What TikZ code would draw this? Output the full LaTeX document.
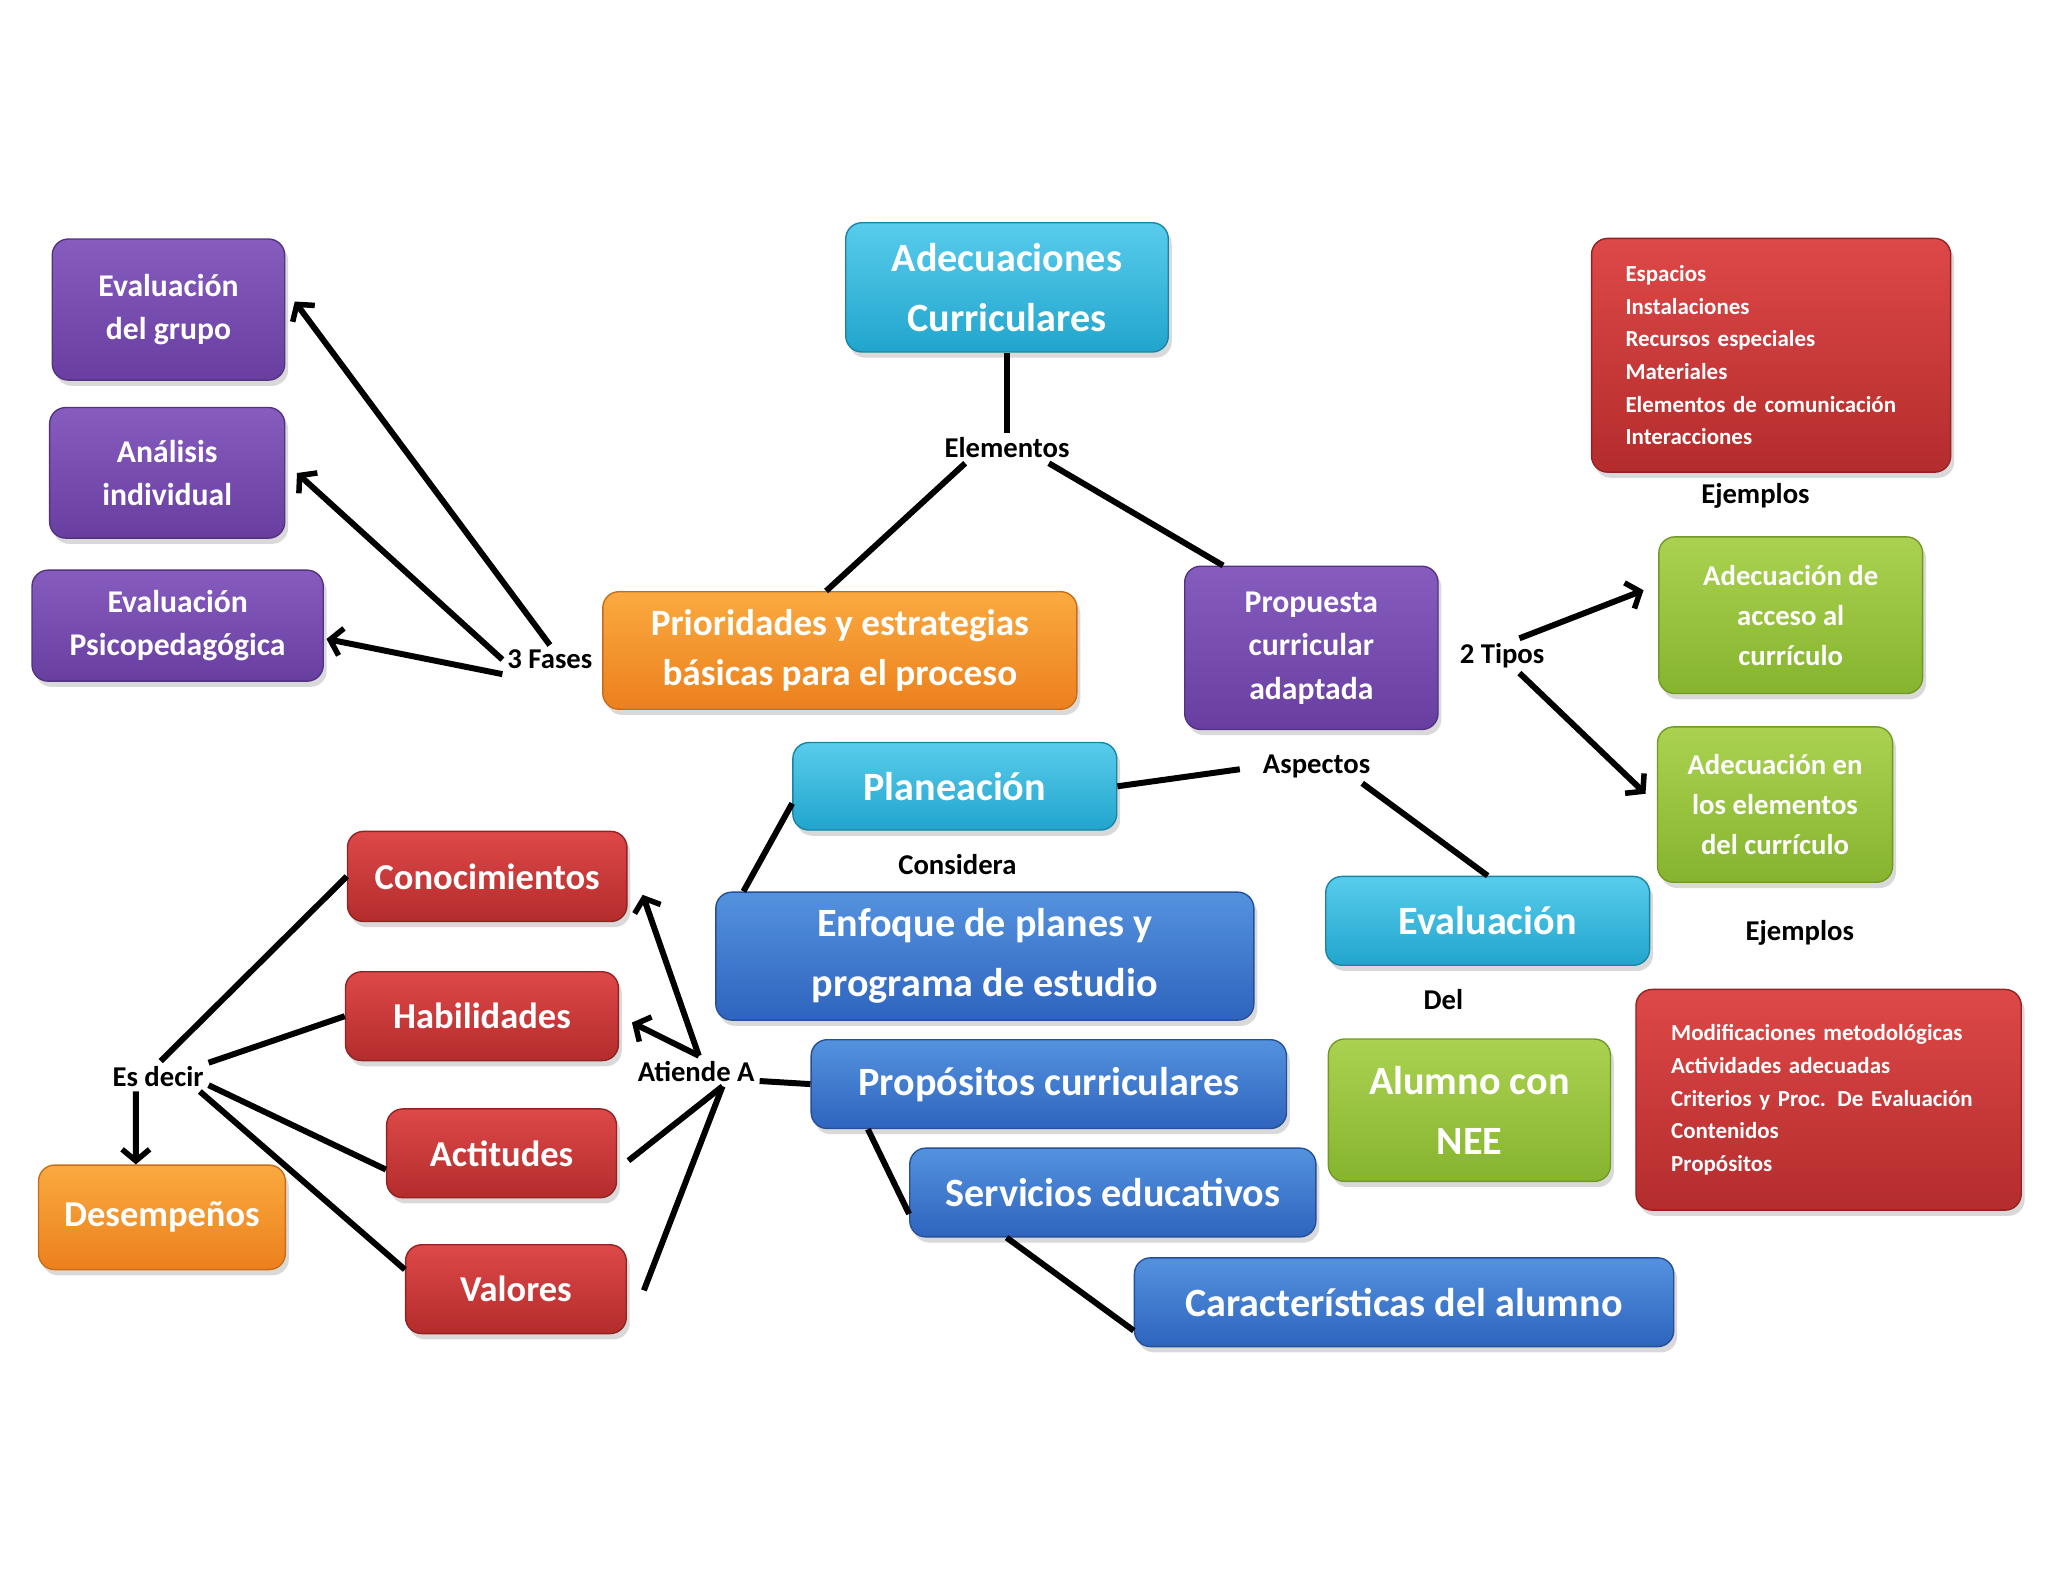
\documentclass[tikz,border=0pt]{standalone}
\usepackage{fontspec}
\setmainfont{Carlito}
\usetikzlibrary{arrows.meta,shadows}
\definecolor{cyanT}{RGB}{88,204,236}
\definecolor{cyanB}{RGB}{33,165,205}
\definecolor{purpT}{RGB}{134,92,190}
\definecolor{purpB}{RGB}{104,62,160}
\definecolor{orngT}{RGB}{250,170,64}
\definecolor{orngB}{RGB}{236,128,28}
\definecolor{grnT}{RGB}{170,210,80}
\definecolor{grnB}{RGB}{134,180,46}
\definecolor{redT}{RGB}{222,72,72}
\definecolor{redB}{RGB}{180,44,44}
\definecolor{bluT}{RGB}{84,146,222}
\definecolor{bluB}{RGB}{46,100,190}

\begin{document}
\begin{tikzpicture}
      [x=0.02cm, y=-0.02cm,
        box/.style={rounded corners=7pt, text=white, align=center, inner sep=0pt, line width=0.6pt,
          drop shadow={opacity=0.3, shadow xshift=1.5pt, shadow yshift=-2.5pt}},
        cyanbox/.style={box, top color=cyanT, bottom color=cyanB, draw=cyanB!80!black},
        purpbox/.style={box, top color=purpT, bottom color=purpB, draw=purpB!80!black},
        orngbox/.style={box, top color=orngT, bottom color=orngB, draw=orngB!85!black},
        grnbox/.style={box, top color=grnT, bottom color=grnB, draw=grnB!85!black},
        redbox/.style={box, top color=redT, bottom color=redB, draw=redB!80!black},
        blubox/.style={box, top color=bluT, bottom color=bluB, draw=bluB!80!black},
        bigtxt/.style={font=\bfseries\fontsize{17.5}{26}\selectfont},
        priotxt/.style={font=\bfseries\fontsize{16.2}{21.6}\selectfont},
        purptxt/.style={font=\bfseries\fontsize{13.8}{19}\selectfont},
        grntxt/.style={font=\bfseries\fontsize{12.5}{17.4}\selectfont},
        redtxt/.style={font=\bfseries\fontsize{15.9}{19}\selectfont},
        listtxt/.style={font=\bfseries\fontsize{10}{14.2}\selectfont, align=left},
        lbl/.style={font=\bfseries\fontsize{12.5}{15}\selectfont, inner sep=2pt},
        ln/.style={line width=2.6pt},
        arr/.style={line width=2.6pt, -{Straight Barb[length=5pt, width=12pt, line width=2.4pt]}}]
      \useasboundingbox (0,0) rectangle (1568,1211);
      \node[cyanbox, bigtxt, minimum width=4.94cm, minimum height=1.98cm] (adec) at (771,220) {Adecuaciones\\Curriculares};
      \node[purpbox, purptxt, minimum width=3.56cm, minimum height=2.16cm] (grupo) at (129,237) {Evaluación\\del grupo};
      \node[purpbox, purptxt, minimum width=3.6cm, minimum height=2cm] (anal) at (128,362) {Análisis\\individual};
      \node[purpbox, purptxt, minimum width=4.46cm, minimum height=1.7cm] (psico) at (136,479) {Evaluación\\Psicopedagógica};
      \node[orngbox, priotxt, minimum width=7.26cm, minimum height=1.8cm] (prior) at (643,498) {Prioridades y estrategias\\básicas para el proceso};
      \node[purpbox, purptxt, minimum width=3.88cm, minimum height=2.5cm] (prop) at (1004,496) {Propuesta\\curricular\\adaptada};
      \node[redbox, listtxt, text width=4.46cm, minimum width=5.5cm, minimum height=3.58cm] (ejuno) at (1356,272) {Espacios\\Instalaciones\\Recursos especiales\\Materiales\\Elementos de comunicación\\Interacciones};
      \node[grnbox, grntxt, minimum width=4.04cm, minimum height=2.4cm] (acceso) at (1371,471) {Adecuación de\\acceso al\\currículo};
      \node[grnbox, grntxt, minimum width=3.6cm, minimum height=2.38cm] (elemcur) at (1359,616) {Adecuación en\\los elementos\\del currículo};
      \node[redbox, listtxt, text width=4.82cm, minimum width=5.9cm, minimum height=3.38cm] (ejdos) at (1400,842) {Modificaciones metodológicas\\Actividades adecuadas\\Criterios y Proc. De Evaluación\\Contenidos\\Propósitos};
      \node[cyanbox, bigtxt, minimum width=4.96cm, minimum height=1.34cm] (plan) at (731,602) {Planeación};
      \node[cyanbox, bigtxt, minimum width=4.96cm, minimum height=1.36cm] (evalc) at (1139,705) {Evaluación};
      \node[blubox, bigtxt, minimum width=8.24cm, minimum height=1.96cm] (enf) at (754,732) {Enfoque de planes y\\programa de estudio};
      \node[grnbox, bigtxt, minimum width=4.32cm, minimum height=2.18cm] (alumno) at (1125,850) {Alumno con\\NEE};
      \node[blubox, bigtxt, minimum width=7.28cm, minimum height=1.36cm] (propc) at (803,830) {Propósitos curriculares};
      \node[blubox, bigtxt, minimum width=6.22cm, minimum height=1.36cm] (serv) at (852,913) {Servicios educativos};
      \node[blubox, bigtxt, minimum width=8.26cm, minimum height=1.36cm] (caract) at (1075,997) {Características del alumno};
      \node[redbox, redtxt, minimum width=4.28cm, minimum height=1.38cm] (conoc) at (373,671) {Conocimientos};
      \node[redbox, redtxt, minimum width=4.18cm, minimum height=1.36cm] (habil) at (369,778) {Habilidades};
      \node[redbox, redtxt, minimum width=3.52cm, minimum height=1.36cm] (actit) at (384,883) {Actitudes};
      \node[redbox, redtxt, minimum width=3.38cm, minimum height=1.36cm] (valor) at (395,987) {Valores};
      \node[orngbox, redtxt, minimum width=3.78cm, minimum height=1.6cm] (desemp) at (124,932) {Desempeños};
      \node[lbl] (elem) at (771,343) {Elementos};
      \node[lbl] (fases) at (421,505) {3 Fases};
      \node[lbl] (tipos) at (1150,502) {2 Tipos};
      \node[lbl] (ejemuno) at (1344,380) {Ejemplos};
      \node[lbl] (ejemdos) at (1378,714) {Ejemplos};
      \node[lbl] (asp) at (1008,587) {Aspectos};
      \node[lbl] (consid) at (733,662) {Considera};
      \node[lbl] (del) at (1105,765) {Del};
      \node[lbl] (es) at (121,824) {Es decir};
      \node[lbl] (atd) at (533,820) {Atiende A};
      \draw[ln] (adec) -- (elem);
      \draw[ln] (elem.200) -- (prior.103);
      \draw[ln] (elem.-20) -- (prop.137);
      \draw[arr, shorten >=0.24cm] (fases.north) -- (grupo.10);
      \draw[arr, shorten >=0.24cm] (fases.west) -- (anal.5);
      \draw[arr, shorten >=0.04cm] (fases.south west) -- (psico.-5);
      \draw[arr, shorten >=0.24cm] (tipos.45) -- (acceso.167);
      \draw[arr, shorten >=0.24cm] (tipos.-45) -- (elemcur.west);
      \draw[ln, shorten >=0.28cm] (plan.east) -- (asp.west);
      \draw[ln] (asp.-20) -- (evalc.north);
      \draw[ln] (plan.186) -- (enf.165);
      \draw[ln] (atd.base east) -- (propc.west);
      \draw[ln] (propc.194) -- (serv.186);
      \draw[ln] (serv.203) -- (caract.186);
      \draw[arr, shorten >=0.7cm] (atd.80) -- (conoc.10);
      \draw[arr, shorten >=0.22cm] (atd.80) -- (habil.east);
      \draw[ln, shorten >=0.22cm] (atd.-30) -- (actit.-8);
      \draw[ln, shorten >=0.72cm] (atd.-30) -- (valor.south east);
      \draw[ln] (es.80) -- (conoc.west);
      \draw[ln] (es.15) -- (habil.west);
      \draw[ln] (es.-10) -- (actit.188);
      \draw[ln] (es.-20) -- (valor.170);
      \draw[arr] ([xshift=-0.34cm]es.south) -- ([xshift=-0.4cm]desemp.north);
    \end{tikzpicture}
\end{document}
